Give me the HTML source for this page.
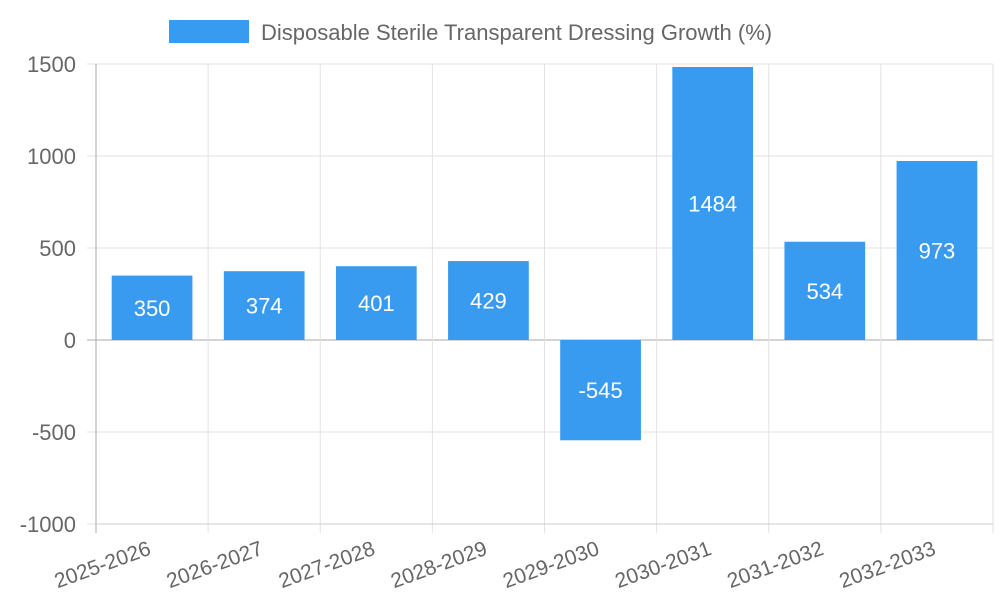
<!DOCTYPE html>
<html><head><meta charset="utf-8"><style>
body{margin:0;background:#fff;font-family:"Liberation Sans",sans-serif}
</style></head><body>
<svg id="chart" width="1000" height="600" xmlns="http://www.w3.org/2000/svg" font-family="Liberation Sans, sans-serif">
<g>
<rect x="169" y="20" width="80" height="23" fill="#389bef"/>
<text x="261" y="40" font-size="22" fill="#666">Disposable Sterile Transparent Dressing Growth (%)</text>
</g>
<g id="grid"></g><g id="bars"></g><g id="labels"></g>
</svg>
<script>
const categories=["2025-2026","2026-2027","2027-2028","2028-2029","2029-2030","2030-2031","2031-2032","2032-2033"];
const values=[350,374,401,429,-545,1484,534,973];
const yTicks=[1500,1000,500,0,-500,-1000];
const L=96,R=993,T=64,B=524,yMin=-1000,yMax=1500;
const NS="http://www.w3.org/2000/svg";
const y=v=>B-(v-yMin)/(yMax-yMin)*(B-T);
const bw=(R-L)/categories.length;
const x=i=>L+bw*i;
function mk(tag,attrs,parent,txt){const e=document.createElementNS(NS,tag);for(const k in attrs)e.setAttribute(k,attrs[k]);if(txt!==undefined)e.textContent=txt;document.getElementById(parent).appendChild(e);return e;}
yTicks.forEach(t=>{
  const l=mk('line',{x1:L-9,x2:R,y1:y(t),y2:y(t),stroke:t===0?'#aaa':'#e2e2e2','stroke-width':1},'grid');
  
  
  const tx=mk('text',{x:L-20,y:y(t)+8,'text-anchor':'end','font-size':22,fill:'#666'},'labels',String(t));
  
  
});
for(let i=0;i<=categories.length;i++){
  const l=mk('line',{x1:x(i),x2:x(i),y1:T,y2:B+9,stroke:i===0?'#aaa':'#e2e2e2','stroke-width':1},'grid');
  
  
}
const bl=mk('line',{x1:L,x2:R,y1:B,y2:B,stroke:'#ccc'},'grid');


categories.forEach((c,i)=>{
  const v=values[i],cx=x(i)+bw/2,w=bw*0.72;
  const top=Math.min(y(v),y(0)),h=Math.abs(y(v)-y(0));
  const r=mk('rect',{x:cx-w/2,y:top,width:w,height:h,fill:'#389bef'},'bars');
  
  
  const vt=mk('text',{x:cx,y:top+h/2+8,'text-anchor':'middle','font-size':22,fill:'#fff'},'labels',String(v));
  
  
  const xt=mk('text',{x:cx,y:B+30,'text-anchor':'end','font-size':21,fill:'#666',transform:`rotate(-20 ${cx} ${B+30})`},'labels',c);
  
  
});
</script>
</body></html>
